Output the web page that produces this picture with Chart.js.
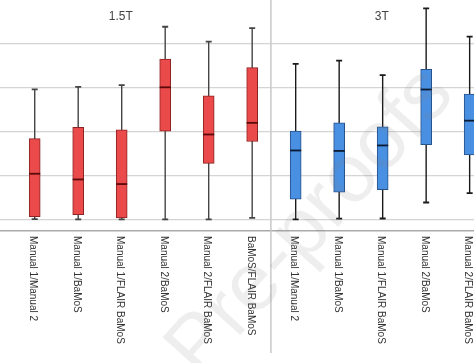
<!DOCTYPE html>
<html><head><meta charset="utf-8">
<script src="https://cdn.jsdelivr.net/npm/chart.js@4"></script>
<style>html,body{margin:0;padding:0;background:#fff}#wrap{width:474px;height:363px;position:relative}</style>
</head><body><div id="wrap"><canvas id="c"></canvas></div>
<script>
const categories = ['Manual 1/Manual 2','Manual 1/BaMoS','Manual 1/FLAIR BaMoS','Manual 2/BaMoS','Manual 2/FLAIR BaMoS','BaMoS/FLAIR BaMoS','Manual 1/Manual 2','Manual 1/BaMoS','Manual 1/FLAIR BaMoS','Manual 2/BaMoS','Manual 2/FLAIR BaMoS'];
const groupOf = ['1.5T','1.5T','1.5T','1.5T','1.5T','1.5T','3T','3T','3T','3T','3T'];
const groupTitles = ['1.5T','3T'];
const whiskerLow  = [0.001,0.000,0.000,0.000,0.000,0.007,0.000,0.003,0.004,0.077,0.120];
const q1          = [0.012,0.021,0.007,0.402,0.255,0.355,0.092,0.124,0.135,0.341,0.294];
const median      = [0.208,0.182,0.161,0.602,0.387,0.440,0.314,0.312,0.337,0.592,0.450];
const q3          = [0.368,0.420,0.408,0.731,0.563,0.692,0.402,0.440,0.422,0.684,0.571];
const whiskerHigh = [0.593,0.604,0.612,0.878,0.810,0.872,0.709,0.724,0.658,0.962,0.833];
const yTicks = [0, 0.2, 0.4, 0.6, 0.8];

const style = {
  '1.5T': {fill:'#ea4a4a', border:'#8e2323', median:'#5a0a0a', whisker:'#444'},
  '3T':   {fill:'#4a90e2', border:'#27518a', median:'#0b1a33', whisker:'#1a1a1a'}
};
const titleAt = {'1.5T': 1.98, '3T': 7.98};
const separatorAt = 5.43;

const boxPlugin = {
  id: 'boxplot',
  beforeDatasetsDraw(chart) {
    const {ctx, scales:{x, y}} = chart;
    ctx.save();
    ctx.strokeStyle = '#c8c8c8';
    ctx.lineWidth = 1.5;
    const sx = x.getPixelForValue(separatorAt);
    ctx.beginPath(); ctx.moveTo(sx, 0); ctx.lineTo(sx, 353); ctx.stroke();
    categories.forEach((c, i) => {
      const st = style[groupOf[i]];
      const px = x.getPixelForValue(i);
      const lo = y.getPixelForValue(whiskerLow[i]);
      const hi = y.getPixelForValue(whiskerHigh[i]);
      ctx.strokeStyle = st.whisker;
      ctx.lineWidth = 1.4;
      ctx.beginPath(); ctx.moveTo(px, lo); ctx.lineTo(px, hi); ctx.stroke();
      ctx.lineWidth = 1.8;
      ctx.beginPath();
      ctx.moveTo(px - 3, lo); ctx.lineTo(px + 3, lo);
      ctx.moveTo(px - 3, hi); ctx.lineTo(px + 3, hi);
      ctx.stroke();
    });
    ctx.restore();
  },
  afterDatasetsDraw(chart) {
    const {ctx, scales:{x, y}} = chart;
    ctx.save();
    categories.forEach((c, i) => {
      const st = style[groupOf[i]];
      const px = x.getPixelForValue(i);
      const m = y.getPixelForValue(median[i]);
      ctx.strokeStyle = st.median;
      ctx.lineWidth = 1.8;
      ctx.beginPath(); ctx.moveTo(px - 5.5, m); ctx.lineTo(px + 5.5, m); ctx.stroke();
    });
    ctx.fillStyle = '#444';
    ctx.font = '12px "Liberation Sans", Arial, sans-serif';
    ctx.textAlign = 'center';
    ctx.textBaseline = 'middle';
    groupTitles.forEach(g => {
      ctx.fillText(g, x.getPixelForValue(titleAt[g]), 17);
    });
    ctx.fillStyle = '#333';
    ctx.font = '10px "Liberation Sans", Arial, sans-serif';
    ctx.textAlign = 'left';
    ctx.textBaseline = 'middle';
    const top = y.bottom + 5;
    categories.forEach((c, i) => {
      ctx.save();
      ctx.translate(x.getPixelForValue(i) - 1.5, top);
      ctx.rotate(Math.PI / 2);
      ctx.fillText(c, 0, 0);
      ctx.restore();
    });
    ctx.save();
    ctx.translate(200, 380);
    ctx.rotate(-48 * Math.PI / 180);
    ctx.fillStyle = 'rgba(120,120,120,0.13)';
    ctx.font = '82px "Liberation Sans", Arial, sans-serif';
    ctx.textAlign = 'left';
    ctx.textBaseline = 'alphabetic';
    ctx.fillText('Pre-proofs', 0, 0);
    ctx.restore();
    ctx.restore();
  }
};

new Chart(document.getElementById('c'), {
  type: 'bar',
  data: {
    datasets: [{
      data: categories.map((c, i) => ({x: i, y: [q1[i], q3[i]]})),
      backgroundColor: groupOf.map(g => style[g].fill),
      borderColor: groupOf.map(g => style[g].border),
      borderWidth: 1,
      borderSkipped: false,
      barThickness: 11
    }]
  },
  options: {
    responsive: true,
    maintainAspectRatio: false,
    animation: false,
    layout: {padding: 0},
    plugins: {legend: {display: false}, tooltip: {enabled: false}},
    scales: {
      x: {
        type: 'linear', min: -0.798, max: 10.1, offset: false,
        grid: {display: false, drawTicks: false, offset: false},
        border: {display: true, color: '#aaaaaa', width: 1.5},
        ticks: {display: false},
        afterFit: s => { s.height = 132; }
      },
      y: {
        min: -0.053, max: 1,
        afterBuildTicks: s => { s.ticks = yTicks.map(v => ({value: v})); },
        grid: {color: '#d4d4d4', lineWidth: 1.3, drawTicks: false},
        border: {display: false},
        ticks: {display: false},
        afterFit: s => { s.width = 0; }
      }
    }
  },
  plugins: [boxPlugin]
});
</script>
</body></html>
